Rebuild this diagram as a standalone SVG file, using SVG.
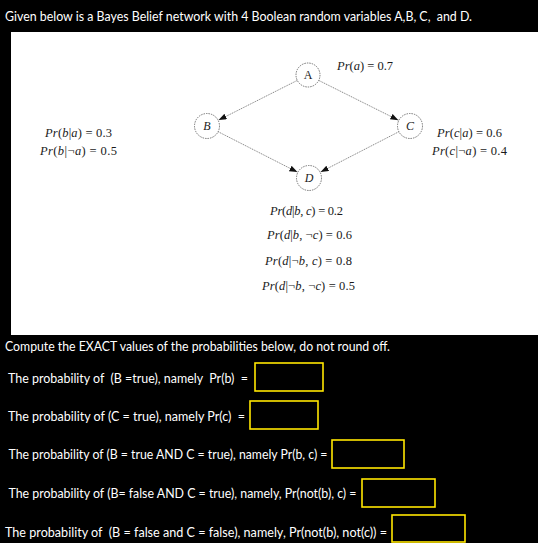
<svg xmlns="http://www.w3.org/2000/svg" width="538" height="543" viewBox="0 0 538 543">
<style>
.q{font-family:Lato,"Noto Sans","Liberation Sans",sans-serif;font-size:13.5px;fill:#fff;white-space:pre}
.m{font-family:"Liberation Serif","DejaVu Serif",serif;font-size:12.5px;fill:#1a1a1a}
.i{font-style:italic}
.nd{fill:#fff;stroke:#555;stroke-width:0.8;stroke-dasharray:1.5 1}
.nl{font-family:"Liberation Serif","DejaVu Serif",serif;font-size:12px;fill:#222;text-anchor:middle}
.e{stroke:#555;stroke-width:0.7;stroke-dasharray:1.2 0.8;fill:none}
.box{fill:#000;stroke:#ffe600;stroke-width:1.6}
</style>
<defs>
<marker id="ah" markerUnits="userSpaceOnUse" markerWidth="9" markerHeight="7" refX="8" refY="3" orient="auto">
<path d="M0,0 L8,3 L0,6 z" fill="#111"/>
</marker>
</defs>
<rect x="0" y="0" width="538" height="543" fill="#000"/>
<rect x="11" y="32" width="527" height="303" fill="#fff"/>
<text class="q" x="5" y="21" textLength="467" lengthAdjust="spacingAndGlyphs">Given below is a Bayes Belief network with 4 Boolean random variables A,B, C,  and D.</text>

<g id="edges">
<line class="e" x1="297.3" y1="80.4" x2="218.6" y2="120.1" marker-end="url(#ah)"/>
<line class="e" x1="318.7" y1="80.4" x2="398.4" y2="120.2" marker-end="url(#ah)"/>
<line class="e" x1="218.1" y1="131.7" x2="297.4" y2="172.1" marker-end="url(#ah)"/>
<line class="e" x1="398.9" y1="131.7" x2="320.6" y2="172" marker-end="url(#ah)"/>
</g>

<g id="nodeA">
<circle class="nd" cx="308" cy="75" r="12"/>
<text class="nl" x="308" y="79">A</text>
</g>
<g id="nodeB">
<circle class="nd" cx="207" cy="126" r="12.5"/>
<text class="nl i" x="207" y="130">B</text>
</g>
<g id="nodeC">
<circle class="nd" cx="410" cy="126" r="12.5"/>
<text class="nl i" x="410" y="130">C</text>
</g>
<g id="nodeD">
<circle class="nd" cx="309" cy="178" r="12.5"/>
<text class="nl i" x="309" y="182">D</text>
</g>

<g id="cpts">
<text class="m" x="337" y="70" textLength="56"><tspan class="i">Pr</tspan>(<tspan class="i">a</tspan>) = 0.7</text>
<text class="m" x="45" y="137" textLength="67"><tspan class="i">Pr</tspan>(<tspan class="i">b</tspan>|<tspan class="i">a</tspan>) = 0.3</text>
<text class="m" x="40" y="155" textLength="77"><tspan class="i">Pr</tspan>(<tspan class="i">b</tspan>|¬<tspan class="i">a</tspan>) = 0.5</text>
<text class="m" x="437" y="137" textLength="65"><tspan class="i">Pr</tspan>(<tspan class="i">c</tspan>|<tspan class="i">a</tspan>) = 0.6</text>
<text class="m" x="432" y="155" textLength="75"><tspan class="i">Pr</tspan>(<tspan class="i">c</tspan>|¬<tspan class="i">a</tspan>) = 0.4</text>
<text class="m" x="270" y="215" textLength="73"><tspan class="i">Pr</tspan>(<tspan class="i">d</tspan>|<tspan class="i">b</tspan>, <tspan class="i">c</tspan>) = 0.2</text>
<text class="m" x="267" y="239" textLength="85"><tspan class="i">Pr</tspan>(<tspan class="i">d</tspan>|<tspan class="i">b</tspan>, ¬<tspan class="i">c</tspan>) = 0.6</text>
<text class="m" x="265" y="265" textLength="87"><tspan class="i">Pr</tspan>(<tspan class="i">d</tspan>|¬<tspan class="i">b</tspan>, <tspan class="i">c</tspan>) = 0.8</text>
<text class="m" x="262" y="290" textLength="93"><tspan class="i">Pr</tspan>(<tspan class="i">d</tspan>|¬<tspan class="i">b</tspan>, ¬<tspan class="i">c</tspan>) = 0.5</text>
</g>

<g id="questions">
<text class="q" x="5" y="351" textLength="385" lengthAdjust="spacingAndGlyphs">Compute the EXACT values of the probabilities below, do not round off.</text>
<text class="q" x="8" y="383" textLength="240" lengthAdjust="spacingAndGlyphs">The probability of  (B =true), namely  Pr(b)  =</text>
<rect class="box" x="255" y="363" width="68" height="28"/>
<text class="q" x="8" y="421" textLength="237" lengthAdjust="spacingAndGlyphs">The probability of (C = true), namely Pr(c)  =</text>
<rect class="box" x="250" y="401" width="68" height="28"/>
<text class="q" x="8.5" y="459" textLength="319" lengthAdjust="spacingAndGlyphs">The probability of (B = true AND C = true), namely Pr(b, c) =</text>
<rect class="box" x="332" y="440" width="72" height="28"/>
<text class="q" x="8.5" y="498" textLength="348" lengthAdjust="spacingAndGlyphs">The probability of (B= false AND C = true), namely, Pr(not(b), c) =</text>
<rect class="box" x="362" y="479" width="73" height="28"/>
<text class="q" x="5" y="537" textLength="382" lengthAdjust="spacingAndGlyphs">The probability of  (B = false and C = false), namely, Pr(not(b), not(c)) =</text>
<rect class="box" x="392" y="515" width="73" height="27"/>
</g>
</svg>
